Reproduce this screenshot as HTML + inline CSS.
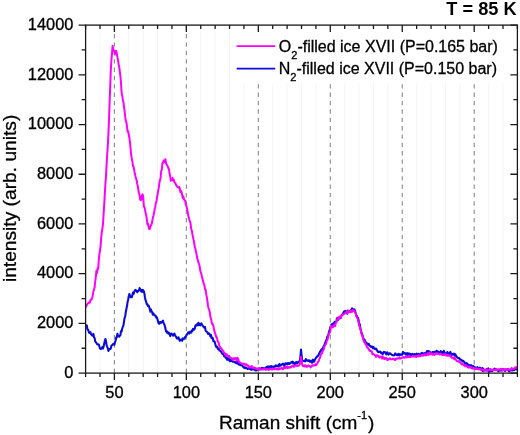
<!DOCTYPE html>
<html><head><meta charset="utf-8"><style>
html,body{margin:0;padding:0;background:#fff;}
body{width:520px;height:435px;overflow:hidden;}
svg{display:block;font-family:"Liberation Sans",Arial,sans-serif;}
</style></head><body>
<svg width="520" height="435" viewBox="0 0 520 435">
<rect width="520" height="435" fill="#fff"/>
<line x1="99.99" y1="25.1" x2="99.99" y2="373.1" stroke="#f5f5f5" stroke-width="1"/><line x1="128.78" y1="25.1" x2="128.78" y2="373.1" stroke="#f5f5f5" stroke-width="1"/><line x1="143.17" y1="25.1" x2="143.17" y2="373.1" stroke="#f5f5f5" stroke-width="1"/><line x1="157.57" y1="25.1" x2="157.57" y2="373.1" stroke="#f5f5f5" stroke-width="1"/><line x1="171.96" y1="25.1" x2="171.96" y2="373.1" stroke="#f5f5f5" stroke-width="1"/><line x1="200.75" y1="25.1" x2="200.75" y2="373.1" stroke="#f5f5f5" stroke-width="1"/><line x1="215.14" y1="25.1" x2="215.14" y2="373.1" stroke="#f5f5f5" stroke-width="1"/><line x1="229.53" y1="25.1" x2="229.53" y2="373.1" stroke="#f5f5f5" stroke-width="1"/><line x1="243.93" y1="25.1" x2="243.93" y2="373.1" stroke="#f5f5f5" stroke-width="1"/><line x1="272.71" y1="25.1" x2="272.71" y2="373.1" stroke="#f5f5f5" stroke-width="1"/><line x1="287.11" y1="25.1" x2="287.11" y2="373.1" stroke="#f5f5f5" stroke-width="1"/><line x1="301.50" y1="25.1" x2="301.50" y2="373.1" stroke="#f5f5f5" stroke-width="1"/><line x1="315.89" y1="25.1" x2="315.89" y2="373.1" stroke="#f5f5f5" stroke-width="1"/><line x1="344.68" y1="25.1" x2="344.68" y2="373.1" stroke="#f5f5f5" stroke-width="1"/><line x1="359.07" y1="25.1" x2="359.07" y2="373.1" stroke="#f5f5f5" stroke-width="1"/><line x1="373.47" y1="25.1" x2="373.47" y2="373.1" stroke="#f5f5f5" stroke-width="1"/><line x1="387.86" y1="25.1" x2="387.86" y2="373.1" stroke="#f5f5f5" stroke-width="1"/><line x1="416.65" y1="25.1" x2="416.65" y2="373.1" stroke="#f5f5f5" stroke-width="1"/><line x1="431.04" y1="25.1" x2="431.04" y2="373.1" stroke="#f5f5f5" stroke-width="1"/><line x1="445.43" y1="25.1" x2="445.43" y2="373.1" stroke="#f5f5f5" stroke-width="1"/><line x1="459.83" y1="25.1" x2="459.83" y2="373.1" stroke="#f5f5f5" stroke-width="1"/><line x1="488.61" y1="25.1" x2="488.61" y2="373.1" stroke="#f5f5f5" stroke-width="1"/><line x1="503.01" y1="25.1" x2="503.01" y2="373.1" stroke="#f5f5f5" stroke-width="1"/><line x1="114.39" y1="25.7" x2="114.39" y2="373.1" stroke="#8a8a8a" stroke-width="1.1" stroke-dasharray="4.4 3.96"/><line x1="186.35" y1="25.7" x2="186.35" y2="373.1" stroke="#8a8a8a" stroke-width="1.1" stroke-dasharray="4.4 3.96"/><line x1="258.32" y1="25.7" x2="258.32" y2="373.1" stroke="#8a8a8a" stroke-width="1.1" stroke-dasharray="4.4 3.96"/><line x1="330.29" y1="25.7" x2="330.29" y2="373.1" stroke="#8a8a8a" stroke-width="1.1" stroke-dasharray="4.4 3.96"/><line x1="402.25" y1="25.7" x2="402.25" y2="373.1" stroke="#8a8a8a" stroke-width="1.1" stroke-dasharray="4.4 3.96"/><line x1="474.22" y1="25.7" x2="474.22" y2="373.1" stroke="#8a8a8a" stroke-width="1.1" stroke-dasharray="4.4 3.96"/>
<defs><clipPath id="pa"><rect x="85.6" y="25.1" width="431.80" height="348.00"/></clipPath></defs><g clip-path="url(#pa)"><polyline points="85.60,325.45 86.20,326.43 86.80,325.44 87.40,329.46 88.00,329.47 88.60,331.15 89.20,332.86 89.80,332.32 90.40,332.16 91.00,334.27 91.60,334.83 92.20,335.50 92.80,335.68 93.40,333.88 94.00,337.29 94.60,337.89 95.20,341.40 95.80,342.21 96.40,342.96 97.00,343.95 97.60,344.25 98.20,344.80 98.80,344.54 99.40,346.48 100.00,348.52 100.60,349.03 101.20,348.73 101.80,348.25 102.40,347.04 103.00,348.55 103.60,346.42 104.20,343.73 104.80,340.86 105.40,339.08 106.00,341.04 106.60,344.96 107.20,346.79 107.80,348.20 108.40,350.88 109.00,349.31 109.60,349.12 110.20,349.12 110.80,348.30 111.40,345.77 112.00,345.19 112.60,344.76 113.20,343.87 113.80,343.63 114.40,344.67 115.00,342.10 115.60,340.61 116.20,337.51 116.80,337.26 117.40,333.87 118.00,335.59 118.60,336.03 119.20,336.68 119.80,335.76 120.40,335.20 121.00,331.07 121.60,331.45 122.20,328.80 122.80,326.68 123.40,325.61 124.00,321.76 124.60,317.90 125.20,316.54 125.80,311.94 126.40,308.85 127.00,306.07 127.60,301.96 128.20,299.51 128.80,295.96 129.40,293.94 130.00,295.98 130.60,297.05 131.20,296.31 131.80,297.22 132.40,295.18 133.00,292.50 133.60,293.86 134.20,291.69 134.80,290.73 135.40,289.92 136.00,290.75 136.60,290.60 137.20,292.23 137.80,291.38 138.40,290.94 139.00,290.40 139.60,288.04 140.20,289.49 140.80,290.32 141.40,291.64 142.00,289.75 142.60,291.85 143.20,290.19 143.80,291.24 144.40,293.46 145.00,297.71 145.60,300.38 146.20,301.94 146.80,304.17 147.40,304.36 148.00,306.25 148.60,305.61 149.20,306.99 149.80,308.90 150.40,311.67 151.00,309.54 151.60,311.43 152.20,312.23 152.80,314.63 153.40,313.39 154.00,314.56 154.60,315.51 155.20,315.23 155.80,316.10 156.40,317.77 157.00,317.67 157.60,319.75 158.20,322.04 158.80,323.57 159.40,323.79 160.00,322.03 160.60,322.15 161.20,322.74 161.80,322.25 162.40,321.48 163.00,320.70 163.60,323.10 164.20,323.98 164.80,325.80 165.40,328.19 166.00,331.40 166.60,331.16 167.20,332.76 167.80,331.98 168.40,333.79 169.00,332.87 169.60,333.56 170.20,336.07 170.80,334.70 171.40,333.70 172.00,334.16 172.60,334.63 173.20,335.56 173.80,334.30 174.40,333.59 175.00,335.34 175.60,336.13 176.20,336.76 176.80,338.29 177.40,337.83 178.00,338.64 178.60,337.40 179.20,339.45 179.80,340.82 180.40,339.93 181.00,339.61 181.60,339.51 182.20,340.77 182.80,338.26 183.40,338.70 184.00,338.89 184.60,338.66 185.20,336.89 185.80,336.60 186.40,335.12 187.00,334.57 187.60,333.63 188.20,332.31 188.80,332.99 189.40,333.54 190.00,331.71 190.60,332.12 191.20,332.62 191.80,330.67 192.40,331.01 193.00,328.82 193.60,329.60 194.20,329.58 194.80,328.48 195.40,325.64 196.00,325.74 196.60,324.54 197.20,324.15 197.80,325.42 198.40,322.79 199.00,324.97 199.60,323.95 200.20,325.30 200.80,324.17 201.40,323.39 202.00,324.65 202.60,325.84 203.20,326.11 203.80,327.37 204.40,327.41 205.00,326.98 205.60,330.66 206.20,331.33 206.80,331.65 207.40,332.35 208.00,333.91 208.60,333.22 209.20,333.55 209.80,334.57 210.40,336.43 211.00,335.00 211.60,338.13 212.20,337.55 212.80,338.22 213.40,341.32 214.00,341.31 214.60,341.61 215.20,343.74 215.80,345.96 216.40,347.12 217.00,346.68 217.60,348.15 218.20,349.16 218.80,348.81 219.40,350.33 220.00,350.77 220.60,351.12 221.20,351.88 221.80,353.02 222.40,353.68 223.00,353.87 223.60,354.58 224.20,356.31 224.80,356.20 225.40,357.26 226.00,358.02 226.60,358.08 227.20,359.79 227.80,357.98 228.40,359.59 229.00,359.15 229.60,361.06 230.20,361.25 230.80,358.92 231.40,359.89 232.00,361.29 232.60,361.61 233.20,361.80 233.80,361.46 234.40,362.05 235.00,362.42 235.60,362.16 236.20,363.18 236.80,361.19 237.40,363.50 238.00,362.69 238.60,364.43 239.20,364.00 239.80,363.95 240.40,365.21 241.00,364.75 241.60,365.14 242.20,365.09 242.80,366.45 243.40,367.11 244.00,367.73 244.60,367.21 245.20,368.18 245.80,367.73 246.40,367.87 247.00,368.50 247.60,369.00 248.20,368.30 248.80,368.53 249.40,368.73 250.00,369.01 250.60,368.51 251.20,369.78 251.80,368.94 252.40,369.49 253.00,368.69 253.60,369.42 254.20,369.44 254.80,368.94 255.40,370.45 256.00,369.43 256.60,370.30 257.20,369.79 257.80,368.79 258.40,368.96 259.00,369.47 259.60,369.24 260.20,369.23 260.80,369.02 261.40,368.08 262.00,369.04 262.60,367.75 263.20,369.26 263.80,368.45 264.40,368.30 265.00,368.43 265.60,368.55 266.20,367.28 266.80,366.88 267.40,367.12 268.00,366.30 268.60,366.82 269.20,368.33 269.80,366.49 270.40,367.46 271.00,366.03 271.60,366.99 272.20,366.47 272.80,366.52 273.40,366.81 274.00,367.47 274.60,366.33 275.20,366.17 275.80,365.34 276.40,366.25 277.00,365.59 277.60,366.19 278.20,365.49 278.80,366.56 279.40,363.96 280.00,364.96 280.60,365.62 281.20,364.67 281.80,364.24 282.40,364.46 283.00,363.58 283.60,364.47 284.20,365.92 284.80,364.92 285.40,363.27 286.00,363.31 286.60,363.52 287.20,364.38 287.80,363.04 288.40,363.04 289.00,364.04 289.60,363.96 290.20,363.04 290.80,362.47 291.40,362.12 292.00,362.66 292.60,361.55 293.20,363.56 293.80,362.56 294.40,363.27 295.00,364.18 295.60,363.64 296.20,361.96 296.80,363.28 297.40,363.40 298.00,361.98 298.60,361.75 299.20,362.20 299.80,360.88 300.40,357.10 301.00,349.63 301.60,355.17 302.20,360.62 302.80,360.82 303.40,361.02 304.00,361.00 304.60,360.56 305.20,361.44 305.80,359.08 306.40,360.62 307.00,360.16 307.60,360.84 308.20,360.99 308.80,360.28 309.40,360.56 310.00,361.66 310.60,361.41 311.20,360.71 311.80,362.62 312.40,362.65 313.00,359.67 313.60,360.51 314.20,361.60 314.80,359.80 315.40,358.78 316.00,357.85 316.60,357.00 317.20,356.55 317.80,355.50 318.40,355.59 319.00,353.79 319.60,352.79 320.20,351.25 320.80,351.19 321.40,349.55 322.00,349.09 322.60,349.01 323.20,347.37 323.80,346.31 324.40,344.95 325.00,343.37 325.60,341.80 326.20,340.15 326.80,339.51 327.40,336.34 328.00,336.76 328.60,333.83 329.20,331.29 329.80,329.67 330.40,327.45 331.00,325.98 331.60,324.35 332.20,326.27 332.80,324.76 333.40,323.25 334.00,323.94 334.60,321.78 335.20,322.65 335.80,322.58 336.40,321.06 337.00,318.24 337.60,318.06 338.20,319.84 338.80,317.90 339.40,317.06 340.00,317.50 340.60,318.24 341.20,316.50 341.80,314.74 342.40,314.31 343.00,313.97 343.60,312.25 344.20,311.38 344.80,312.13 345.40,310.96 346.00,311.66 346.60,311.69 347.20,313.77 347.80,310.58 348.40,311.21 349.00,311.07 349.60,311.54 350.20,312.00 350.80,310.32 351.40,309.63 352.00,308.37 352.60,308.90 353.20,310.41 353.80,310.13 354.40,309.39 355.00,310.68 355.60,312.69 356.20,315.10 356.80,315.73 357.40,317.61 358.00,317.77 358.60,320.26 359.20,325.08 359.80,324.08 360.40,328.20 361.00,331.05 361.60,332.84 362.20,334.50 362.80,336.88 363.40,338.58 364.00,339.99 364.60,339.70 365.20,341.98 365.80,341.93 366.40,342.62 367.00,343.62 367.60,344.26 368.20,344.76 368.80,343.90 369.40,345.38 370.00,345.96 370.60,346.37 371.20,347.06 371.80,346.33 372.40,346.85 373.00,348.20 373.60,346.98 374.20,348.77 374.80,348.67 375.40,349.24 376.00,348.55 376.60,349.61 377.20,350.67 377.80,351.75 378.40,352.18 379.00,351.67 379.60,351.89 380.20,351.65 380.80,352.82 381.40,352.49 382.00,353.27 382.60,354.26 383.20,352.98 383.80,351.95 384.40,352.51 385.00,352.13 385.60,352.40 386.20,354.38 386.80,353.61 387.40,352.34 388.00,354.06 388.60,354.59 389.20,353.42 389.80,353.26 390.40,353.61 391.00,354.17 391.60,354.54 392.20,355.04 392.80,355.15 393.40,355.22 394.00,355.43 394.60,354.97 395.20,353.36 395.80,354.47 396.40,354.83 397.00,354.31 397.60,355.27 398.20,354.26 398.80,353.76 399.40,355.47 400.00,354.79 400.60,354.34 401.20,354.78 401.80,354.78 402.40,354.14 403.00,351.92 403.60,353.23 404.20,353.36 404.80,352.95 405.40,353.88 406.00,354.69 406.60,353.48 407.20,353.07 407.80,355.58 408.40,353.80 409.00,353.31 409.60,354.53 410.20,354.76 410.80,353.98 411.40,355.17 412.00,354.23 412.60,353.90 413.20,354.72 413.80,355.13 414.40,354.02 415.00,354.69 415.60,354.29 416.20,356.43 416.80,353.66 417.40,355.16 418.00,353.97 418.60,353.82 419.20,354.37 419.80,354.40 420.40,354.60 421.00,353.79 421.60,352.97 422.20,352.89 422.80,353.56 423.40,353.48 424.00,353.96 424.60,353.07 425.20,353.43 425.80,353.65 426.40,352.49 427.00,351.11 427.60,351.27 428.20,351.01 428.80,353.34 429.40,351.44 430.00,353.05 430.60,352.55 431.20,353.43 431.80,352.88 432.40,352.02 433.00,351.94 433.60,352.17 434.20,352.24 434.80,351.69 435.40,352.07 436.00,353.35 436.60,350.78 437.20,352.30 437.80,351.40 438.40,352.27 439.00,352.81 439.60,352.17 440.20,352.87 440.80,351.12 441.40,353.29 442.00,352.05 442.60,353.08 443.20,352.83 443.80,350.78 444.40,352.26 445.00,353.08 445.60,354.17 446.20,353.23 446.80,353.24 447.40,351.99 448.00,354.19 448.60,354.50 449.20,353.15 449.80,352.98 450.40,351.94 451.00,353.89 451.60,355.34 452.20,353.88 452.80,354.50 453.40,354.28 454.00,353.53 454.60,355.73 455.20,354.21 455.80,355.45 456.40,356.34 457.00,357.35 457.60,357.60 458.20,358.18 458.80,357.94 459.40,358.15 460.00,359.69 460.60,359.66 461.20,359.76 461.80,360.29 462.40,361.31 463.00,360.77 463.60,361.50 464.20,361.65 464.80,363.24 465.40,363.72 466.00,365.11 466.60,363.01 467.20,363.85 467.80,365.20 468.40,364.70 469.00,364.89 469.60,366.51 470.20,365.41 470.80,365.14 471.40,365.30 472.00,366.65 472.60,366.88 473.20,366.04 473.80,366.53 474.40,367.74 475.00,367.99 475.60,367.41 476.20,368.40 476.80,368.54 477.40,367.21 478.00,368.27 478.60,368.86 479.20,368.37 479.80,367.53 480.40,368.81 481.00,369.58 481.60,370.21 482.20,368.00 482.80,371.06 483.40,368.87 484.00,370.24 484.60,370.49 485.20,370.41 485.80,369.96 486.40,369.22 487.00,370.34 487.60,369.56 488.20,368.47 488.80,371.71 489.40,370.43 490.00,371.10 490.60,369.45 491.20,370.89 491.80,370.96 492.40,370.94 493.00,369.99 493.60,369.27 494.20,369.89 494.80,368.67 495.40,368.97 496.00,370.06 496.60,369.40 497.20,369.90 497.80,369.93 498.40,371.17 499.00,370.79 499.60,369.97 500.20,370.73 500.80,369.53 501.40,369.80 502.00,370.55 502.60,369.25 503.20,369.83 503.80,369.20 504.40,370.07 505.00,370.99 505.60,369.54 506.20,370.14 506.80,369.46 507.40,369.30 508.00,369.25 508.60,370.88 509.20,371.43 509.80,370.29 510.40,369.57 511.00,370.43 511.60,369.80 512.20,370.47 512.80,370.14 513.40,370.09 514.00,370.24 514.60,369.46 515.20,369.50 515.80,368.63 516.40,369.34 517.00,368.66" fill="none" stroke="#0b0bdc" stroke-width="2.1" stroke-linejoin="round"/><polyline points="85.60,307.20 86.20,306.35 86.80,305.03 87.40,303.89 88.00,303.68 88.60,302.56 89.20,302.57 89.80,302.69 90.40,300.24 91.00,299.33 91.60,299.39 92.20,297.76 92.80,295.07 93.40,291.37 94.00,289.47 94.60,287.27 95.20,281.92 95.80,277.09 96.40,270.79 97.00,273.03 97.60,268.38 98.20,268.70 98.80,259.15 99.40,254.42 100.00,250.28 100.60,245.82 101.20,237.54 101.80,232.43 102.40,228.52 103.00,224.10 103.60,213.96 104.20,204.57 104.80,194.06 105.40,184.20 106.00,176.17 106.60,164.20 107.20,155.11 107.80,145.90 108.40,133.46 109.00,119.73 109.60,102.81 110.20,86.70 110.80,70.15 111.40,60.31 112.00,53.76 112.60,45.72 113.20,49.69 113.80,50.76 114.40,50.58 115.00,54.39 115.60,53.08 116.20,50.97 116.80,53.56 117.40,57.14 118.00,59.76 118.60,64.23 119.20,66.89 119.80,71.27 120.40,76.14 121.00,82.82 121.60,92.76 122.20,95.17 122.80,99.63 123.40,101.94 124.00,106.65 124.60,111.14 125.20,116.65 125.80,121.15 126.40,122.16 127.00,126.55 127.60,131.65 128.20,131.19 128.80,135.04 129.40,137.70 130.00,142.46 130.60,148.89 131.20,155.03 131.80,158.64 132.40,161.52 133.00,166.02 133.60,166.70 134.20,169.84 134.80,173.54 135.40,175.87 136.00,178.45 136.60,179.98 137.20,183.73 137.80,185.92 138.40,190.52 139.00,192.94 139.60,195.20 140.20,199.62 140.80,200.09 141.40,199.53 142.00,195.30 142.60,194.32 143.20,196.76 143.80,205.88 144.40,207.37 145.00,209.33 145.60,213.15 146.20,214.93 146.80,219.03 147.40,224.22 148.00,223.68 148.60,226.45 149.20,228.97 149.80,229.04 150.40,226.95 151.00,225.22 151.60,224.23 152.20,221.78 152.80,217.67 153.40,215.96 154.00,213.34 154.60,209.31 155.20,207.53 155.80,203.06 156.40,201.65 157.00,197.54 157.60,194.27 158.20,190.46 158.80,187.88 159.40,182.64 160.00,180.16 160.60,177.94 161.20,170.71 161.80,169.64 162.40,163.22 163.00,163.01 163.60,160.42 164.20,162.05 164.80,161.20 165.40,159.27 166.00,162.87 166.60,164.90 167.20,165.23 167.80,166.62 168.40,168.37 169.00,169.29 169.60,173.87 170.20,176.23 170.80,180.68 171.40,180.37 172.00,179.61 172.60,177.87 173.20,180.43 173.80,179.62 174.40,182.19 175.00,182.79 175.60,183.65 176.20,185.34 176.80,185.87 177.40,187.07 178.00,187.14 178.60,187.69 179.20,187.07 179.80,188.39 180.40,192.06 181.00,190.96 181.60,192.18 182.20,195.32 182.80,197.99 183.40,196.42 184.00,199.22 184.60,200.29 185.20,200.67 185.80,204.82 186.40,205.78 187.00,208.39 187.60,211.02 188.20,215.68 188.80,217.32 189.40,220.07 190.00,221.38 190.60,223.77 191.20,229.17 191.80,230.36 192.40,234.26 193.00,237.07 193.60,239.91 194.20,243.01 194.80,247.03 195.40,248.83 196.00,251.62 196.60,254.39 197.20,258.06 197.80,260.14 198.40,262.39 199.00,264.02 199.60,265.77 200.20,270.36 200.80,272.77 201.40,274.08 202.00,276.93 202.60,279.36 203.20,281.62 203.80,283.97 204.40,285.13 205.00,289.31 205.60,289.57 206.20,294.21 206.80,297.15 207.40,301.01 208.00,305.46 208.60,308.63 209.20,309.72 209.80,312.37 210.40,317.23 211.00,318.42 211.60,321.48 212.20,324.20 212.80,324.30 213.40,325.91 214.00,329.67 214.60,331.61 215.20,333.50 215.80,335.74 216.40,337.02 217.00,338.31 217.60,340.91 218.20,341.99 218.80,343.09 219.40,345.95 220.00,346.85 220.60,348.26 221.20,348.33 221.80,349.42 222.40,350.02 223.00,350.83 223.60,352.19 224.20,352.21 224.80,353.51 225.40,354.05 226.00,355.60 226.60,353.98 227.20,355.84 227.80,355.68 228.40,356.15 229.00,355.69 229.60,356.69 230.20,357.82 230.80,357.74 231.40,358.23 232.00,358.38 232.60,359.57 233.20,359.17 233.80,358.12 234.40,359.18 235.00,358.59 235.60,357.98 236.20,359.66 236.80,360.77 237.40,357.67 238.00,358.66 238.60,360.45 239.20,362.41 239.80,362.43 240.40,362.80 241.00,363.08 241.60,363.40 242.20,364.05 242.80,364.10 243.40,364.08 244.00,363.55 244.60,364.57 245.20,364.11 245.80,365.31 246.40,364.32 247.00,365.32 247.60,365.80 248.20,365.46 248.80,367.33 249.40,367.40 250.00,366.60 250.60,367.44 251.20,367.42 251.80,366.03 252.40,367.68 253.00,367.66 253.60,367.87 254.20,367.40 254.80,367.93 255.40,368.09 256.00,368.88 256.60,368.53 257.20,368.44 257.80,369.30 258.40,368.33 259.00,368.50 259.60,367.86 260.20,369.64 260.80,369.40 261.40,369.44 262.00,369.37 262.60,369.14 263.20,369.24 263.80,369.04 264.40,369.08 265.00,369.22 265.60,369.95 266.20,369.48 266.80,369.17 267.40,368.91 268.00,368.88 268.60,370.00 269.20,369.45 269.80,369.23 270.40,369.03 271.00,368.65 271.60,369.17 272.20,369.64 272.80,369.00 273.40,369.08 274.00,369.07 274.60,369.22 275.20,368.34 275.80,368.97 276.40,368.62 277.00,369.44 277.60,368.55 278.20,369.16 278.80,369.57 279.40,368.57 280.00,368.35 280.60,368.67 281.20,368.49 281.80,367.91 282.40,368.57 283.00,369.29 283.60,368.04 284.20,367.96 284.80,367.41 285.40,367.99 286.00,367.05 286.60,366.98 287.20,368.08 287.80,366.80 288.40,367.69 289.00,367.78 289.60,366.98 290.20,367.00 290.80,367.61 291.40,366.35 292.00,366.04 292.60,365.54 293.20,366.20 293.80,366.91 294.40,366.59 295.00,365.53 295.60,365.53 296.20,365.67 296.80,366.02 297.40,365.67 298.00,365.78 298.60,365.68 299.20,365.08 299.80,363.82 300.40,361.55 301.00,356.95 301.60,361.00 302.20,364.79 302.80,365.82 303.40,366.17 304.00,365.41 304.60,366.51 305.20,365.27 305.80,365.55 306.40,366.75 307.00,366.67 307.60,366.22 308.20,365.39 308.80,366.10 309.40,365.94 310.00,366.63 310.60,367.45 311.20,366.30 311.80,365.68 312.40,365.35 313.00,365.80 313.60,365.57 314.20,364.86 314.80,365.34 315.40,364.38 316.00,365.14 316.60,364.47 317.20,363.73 317.80,362.02 318.40,361.64 319.00,360.07 319.60,358.51 320.20,357.02 320.80,354.90 321.40,353.34 322.00,353.37 322.60,351.42 323.20,350.36 323.80,349.52 324.40,346.34 325.00,345.48 325.60,344.54 326.20,343.02 326.80,340.77 327.40,339.98 328.00,337.65 328.60,334.89 329.20,333.32 329.80,332.72 330.40,330.46 331.00,325.88 331.60,327.01 332.20,326.67 332.80,327.47 333.40,326.12 334.00,325.76 334.60,324.55 335.20,326.18 335.80,322.58 336.40,322.35 337.00,319.51 337.60,319.41 338.20,317.39 338.80,317.85 339.40,318.44 340.00,316.27 340.60,317.63 341.20,316.61 341.80,315.08 342.40,315.05 343.00,314.64 343.60,314.53 344.20,313.75 344.80,313.13 345.40,313.19 346.00,312.29 346.60,311.79 347.20,312.50 347.80,312.99 348.40,310.84 349.00,311.83 349.60,311.10 350.20,310.63 350.80,311.88 351.40,310.55 352.00,311.92 352.60,309.98 353.20,310.96 353.80,310.68 354.40,310.58 355.00,312.31 355.60,313.29 356.20,315.79 356.80,316.97 357.40,317.78 358.00,320.24 358.60,322.28 359.20,325.30 359.80,326.49 360.40,329.57 361.00,330.60 361.60,334.47 362.20,335.23 362.80,336.56 363.40,339.55 364.00,342.00 364.60,341.70 365.20,343.27 365.80,344.60 366.40,345.36 367.00,347.29 367.60,347.38 368.20,348.24 368.80,349.83 369.40,349.67 370.00,351.08 370.60,350.81 371.20,351.27 371.80,351.47 372.40,354.34 373.00,353.51 373.60,354.35 374.20,354.63 374.80,355.14 375.40,355.43 376.00,356.85 376.60,355.32 377.20,355.25 377.80,355.80 378.40,355.80 379.00,357.24 379.60,357.46 380.20,356.56 380.80,356.47 381.40,357.26 382.00,358.48 382.60,356.16 383.20,358.34 383.80,357.59 384.40,359.04 385.00,357.98 385.60,358.63 386.20,358.08 386.80,358.53 387.40,360.04 388.00,359.80 388.60,359.14 389.20,358.89 389.80,358.29 390.40,359.15 391.00,359.33 391.60,359.27 392.20,359.22 392.80,358.57 393.40,359.13 394.00,359.09 394.60,359.81 395.20,360.08 395.80,358.84 396.40,358.40 397.00,358.75 397.60,358.36 398.20,358.19 398.80,358.49 399.40,357.80 400.00,358.67 400.60,358.13 401.20,358.22 401.80,357.85 402.40,357.41 403.00,357.17 403.60,357.50 404.20,357.22 404.80,357.62 405.40,357.41 406.00,356.53 406.60,357.33 407.20,356.44 407.80,356.82 408.40,356.96 409.00,355.85 409.60,357.10 410.20,357.08 410.80,356.85 411.40,356.63 412.00,356.61 412.60,356.18 413.20,356.54 413.80,356.31 414.40,356.63 415.00,355.78 415.60,356.59 416.20,356.46 416.80,356.22 417.40,355.97 418.00,356.49 418.60,355.07 419.20,356.28 419.80,356.06 420.40,356.00 421.00,355.97 421.60,355.23 422.20,355.35 422.80,355.77 423.40,355.51 424.00,355.24 424.60,354.04 425.20,355.16 425.80,355.42 426.40,355.20 427.00,354.61 427.60,353.40 428.20,354.86 428.80,354.13 429.40,352.61 430.00,354.36 430.60,353.16 431.20,353.24 431.80,353.61 432.40,354.75 433.00,353.70 433.60,354.07 434.20,354.96 434.80,354.84 435.40,353.77 436.00,353.67 436.60,353.02 437.20,353.37 437.80,354.07 438.40,354.07 439.00,353.93 439.60,354.54 440.20,353.52 440.80,354.05 441.40,354.64 442.00,354.66 442.60,355.08 443.20,354.79 443.80,354.49 444.40,355.04 445.00,354.35 445.60,354.10 446.20,355.60 446.80,355.38 447.40,355.78 448.00,354.76 448.60,355.79 449.20,355.88 449.80,355.97 450.40,355.40 451.00,356.83 451.60,357.86 452.20,357.84 452.80,357.56 453.40,358.22 454.00,359.00 454.60,357.25 455.20,359.12 455.80,359.84 456.40,360.24 457.00,361.17 457.60,361.20 458.20,361.12 458.80,361.52 459.40,362.21 460.00,361.88 460.60,362.59 461.20,363.53 461.80,364.51 462.40,363.72 463.00,364.13 463.60,364.61 464.20,365.59 464.80,365.19 465.40,366.35 466.00,365.38 466.60,366.11 467.20,366.41 467.80,367.20 468.40,367.58 469.00,366.45 469.60,366.94 470.20,367.75 470.80,367.40 471.40,367.10 472.00,368.55 472.60,368.40 473.20,368.53 473.80,368.15 474.40,369.02 475.00,368.48 475.60,369.25 476.20,368.33 476.80,368.45 477.40,369.06 478.00,368.69 478.60,369.46 479.20,369.33 479.80,368.82 480.40,369.39 481.00,369.26 481.60,369.96 482.20,369.27 482.80,369.43 483.40,370.31 484.00,370.87 484.60,370.81 485.20,369.91 485.80,370.02 486.40,370.70 487.00,369.92 487.60,369.52 488.20,370.06 488.80,370.22 489.40,369.59 490.00,369.18 490.60,369.27 491.20,370.28 491.80,369.57 492.40,369.85 493.00,370.00 493.60,370.17 494.20,369.68 494.80,370.06 495.40,369.34 496.00,369.57 496.60,369.22 497.20,370.25 497.80,369.64 498.40,369.26 499.00,369.42 499.60,369.46 500.20,369.88 500.80,368.72 501.40,368.97 502.00,369.27 502.60,370.69 503.20,369.89 503.80,369.34 504.40,369.73 505.00,370.38 505.60,369.22 506.20,369.13 506.80,369.89 507.40,369.51 508.00,369.57 508.60,368.95 509.20,370.13 509.80,369.98 510.40,369.37 511.00,369.38 511.60,367.97 512.20,369.23 512.80,368.70 513.40,368.88 514.00,368.83 514.60,368.12 515.20,367.22 515.80,368.06 516.40,367.26 517.00,367.24" fill="none" stroke="#ff00ff" stroke-width="2.0" stroke-linejoin="round"/></g>
<rect x="233" y="26" width="283" height="57" fill="#fff"/>
<rect x="85.6" y="25.1" width="431.80" height="348.00" fill="none" stroke="#1a1a1a" stroke-width="1.3"/>
<path d="M85.60 373.1v4M85.60 25.1v4M99.99 373.1v4M99.99 25.1v4M114.39 373.1v7M114.39 25.1v7M128.78 373.1v4M128.78 25.1v4M143.17 373.1v4M143.17 25.1v4M157.57 373.1v4M157.57 25.1v4M171.96 373.1v4M171.96 25.1v4M186.35 373.1v7M186.35 25.1v7M200.75 373.1v4M200.75 25.1v4M215.14 373.1v4M215.14 25.1v4M229.53 373.1v4M229.53 25.1v4M243.93 373.1v4M243.93 25.1v4M258.32 373.1v7M258.32 25.1v7M272.71 373.1v4M272.71 25.1v4M287.11 373.1v4M287.11 25.1v4M301.50 373.1v4M301.50 25.1v4M315.89 373.1v4M315.89 25.1v4M330.29 373.1v7M330.29 25.1v7M344.68 373.1v4M344.68 25.1v4M359.07 373.1v4M359.07 25.1v4M373.47 373.1v4M373.47 25.1v4M387.86 373.1v4M387.86 25.1v4M402.25 373.1v7M402.25 25.1v7M416.65 373.1v4M416.65 25.1v4M431.04 373.1v4M431.04 25.1v4M445.43 373.1v4M445.43 25.1v4M459.83 373.1v4M459.83 25.1v4M474.22 373.1v7M474.22 25.1v7M488.61 373.1v4M488.61 25.1v4M503.01 373.1v4M503.01 25.1v4M517.40 373.1v4M517.40 25.1v4M85.6 373.10h-7M517.4 373.10h-7M85.6 348.24h-4M517.4 348.24h-4M85.6 323.39h-7M517.4 323.39h-7M85.6 298.53h-4M517.4 298.53h-4M85.6 273.67h-7M517.4 273.67h-7M85.6 248.81h-4M517.4 248.81h-4M85.6 223.96h-7M517.4 223.96h-7M85.6 199.10h-4M517.4 199.10h-4M85.6 174.24h-7M517.4 174.24h-7M85.6 149.39h-4M517.4 149.39h-4M85.6 124.53h-7M517.4 124.53h-7M85.6 99.67h-4M517.4 99.67h-4M85.6 74.81h-7M517.4 74.81h-7M85.6 49.96h-4M517.4 49.96h-4M85.6 25.10h-7M517.4 25.10h-7" stroke="#1a1a1a" stroke-width="1.3" fill="none"/>
<g font-size="16.4" fill="#000" stroke="#000" stroke-width="0.32">
<text x="73.4" y="377.90" text-anchor="end">0</text><text x="73.4" y="328.19" text-anchor="end">2000</text><text x="73.4" y="278.47" text-anchor="end">4000</text><text x="73.4" y="228.76" text-anchor="end">6000</text><text x="73.4" y="179.04" text-anchor="end">8000</text><text x="73.4" y="129.33" text-anchor="end">10000</text><text x="73.4" y="79.61" text-anchor="end">12000</text><text x="73.4" y="29.90" text-anchor="end">14000</text><text x="114.39" y="397.8" text-anchor="middle">50</text><text x="186.35" y="397.8" text-anchor="middle">100</text><text x="258.32" y="397.8" text-anchor="middle">150</text><text x="330.29" y="397.8" text-anchor="middle">200</text><text x="402.25" y="397.8" text-anchor="middle">250</text><text x="474.22" y="397.8" text-anchor="middle">300</text>
</g>
<g font-size="16" fill="#000" stroke="#000" stroke-width="0.3">
<line x1="236.7" y1="46.1" x2="275.2" y2="46.1" stroke="#ff00ff" stroke-width="1.6"/>
<line x1="236.7" y1="68.6" x2="275.2" y2="68.6" stroke="#0b0bdc" stroke-width="1.6"/>
<text x="278.8" y="51.6">O<tspan font-size="11" dy="7">2</tspan><tspan dy="-7">-filled ice XVII (P=0.165 bar)</tspan></text>
<text x="278.8" y="74.0">N<tspan font-size="11" dy="7">2</tspan><tspan dy="-7">-filled ice XVII (P=0.150 bar)</tspan></text>
</g>
<text x="516.6" y="14.7" text-anchor="end" font-size="18.2" font-weight="bold" fill="#000">T = 85 K</text>
<text x="219" y="428.8" font-size="19" fill="#000" stroke="#000" stroke-width="0.3">Raman shift (cm<tspan font-size="11" dy="-10">-1</tspan><tspan dy="10" dx="0.8">)</tspan></text>
<text transform="translate(15.6,198.4) rotate(-90)" text-anchor="middle" font-size="19.2" fill="#000" stroke="#000" stroke-width="0.3">intensity (arb. units)</text>
</svg>
</body></html>
